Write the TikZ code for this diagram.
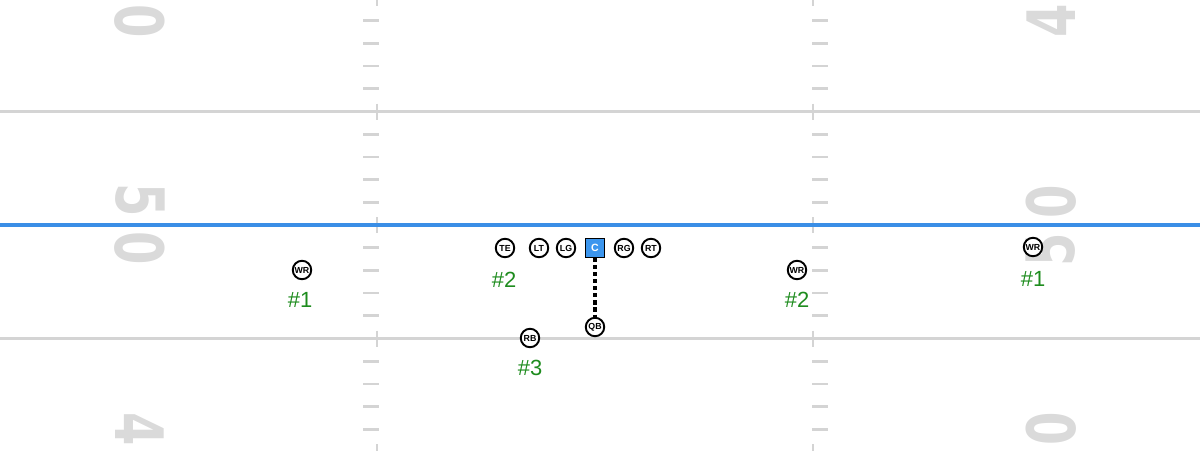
\documentclass[tikz,border=0pt]{standalone}
\usepackage{fontspec}
\setmainfont{Liberation Sans}
\newfontfamily\numfont{DejaVu Sans}
\definecolor{fieldline}{HTML}{D4D4D4}
\definecolor{fieldnum}{HTML}{DADADA}
\definecolor{scrimmage}{HTML}{3A8EE6}
\definecolor{centerblue}{HTML}{3C96EE}
\definecolor{readgreen}{HTML}{1E8C1E}
\newcommand{\yardfig}[1]{\scalebox{0.72}[1]{#1}}
\begin{document}
\begin{tikzpicture}[x=0.02cm, y=-0.02cm,
		player/.style={draw, circle, line width=1.1pt, fill=white, minimum size=0.37cm, inner sep=0pt, font=\fontsize{5}{5}\selectfont\bfseries},
		snapper/.style={draw, rectangle, line width=0.9pt, fill=centerblue, text=white, minimum size=0.38cm, inner sep=0pt, font=\fontsize{6}{6}\selectfont\bfseries},
		readnum/.style={text=readgreen, font=\fontsize{12.5}{12.5}\selectfont, inner sep=0pt},
		yardnum/.style={text=fieldnum, font=\numfont\fontsize{38}{38}\selectfont\bfseries, inner sep=0pt},
		yardline/.style={fieldline, line width=1.7pt},
		hashmark/.style={fieldline, line width=1.5pt}]
		\useasboundingbox (0,0) rectangle (1200,450);
		\clip (0,0) rectangle (1200,450);
		
		% field
		\foreach \y in {-2,111.5,338.5,452}
			\draw[yardline] (0,\y) -- (1200,\y);
		\foreach \k in {-9,-8,-7,-6,-4,-3,-2,-1,1,2,3,4,6,7,8,9} {
			\draw[hashmark] (363,225+\k*22.7) -- (379,225+\k*22.7);
			\draw[hashmark] (812,225+\k*22.7) -- (828,225+\k*22.7);
		}
		\foreach \y in {-2,111.5,225,338.5,452} {
			\draw[hashmark] (377,\y-8) -- (377,\y+8);
			\draw[hashmark] (813,\y-8) -- (813,\y+8);
		}
		\node (numlt) [yardnum, rotate=-90] at (140,21) {\yardfig{0}};
		\node (numlf) [yardnum, rotate=-90] at (140,200) {\yardfig{5}};
		\node (numlz) [yardnum, rotate=-90] at (140,248) {\yardfig{0}};
		\node (numlb) [yardnum, rotate=-90] at (140,429) {\yardfig{4}};
		\node (numrt) [yardnum, rotate=90] at (1051,21) {\yardfig{4}};
		\node (numrz) [yardnum, rotate=90] at (1051,202) {\yardfig{0}};
		\node (numrf) [yardnum, rotate=90] at (1051,250) {\yardfig{5}};
		\node (numrb) [yardnum, rotate=90] at (1051,429) {\yardfig{0}};
		\draw[scrimmage, line width=2.3pt] (0,225) -- (1200,225);
		
		% offense
		\node (te) [player] at (505,248) {TE};
		\node (lt) [player] at (539,248) {LT};
		\node (lg) [player] at (566,248) {LG};
		\node (c) [snapper] at (595,248) {C};
		\node (rg) [player] at (624,248) {RG};
		\node (rt) [player] at (651,248) {RT};
		\node (qb) [player] at (595,327) {QB};
		\node (rb) [player] at (530,338) {RB};
		\node (wrx) [player] at (302,270) {WR};
		\node (wry) [player] at (797,270) {WR};
		\node (wrz) [player] at (1033,247) {WR};
		
		\draw[line width=2.3pt, dash pattern=on 2.3pt off 1.7pt] (c) -- (qb);
		
		% reads
		\node (readwrx) [readnum] at (300,300) {\#1};
		\node (readte) [readnum] at (504,280) {\#2};
		\node (readwry) [readnum] at (797,300) {\#2};
		\node (readwrz) [readnum] at (1033,279) {\#1};
		\node (readrb) [readnum] at (530,368) {\#3};
	\end{tikzpicture}
\end{document}
